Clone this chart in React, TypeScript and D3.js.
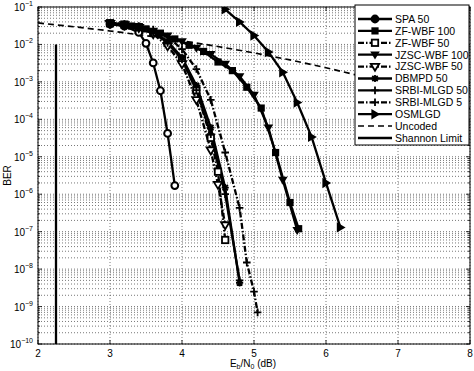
import React from "react";
import * as d3 from "d3";

// Eb/N0 (dB) and BER
const spaX = [3.0, 3.2, 3.4, 3.5, 3.6, 3.7, 3.8, 3.9];
const spaY = [0.035, 0.031, 0.021, 0.0107, 0.0032, 5.8e-4, 4.2e-5, 1.7e-6];

const zf100X = [3.0, 3.3, 3.5, 3.7, 3.9, 4.1, 4.3, 4.5, 4.7, 4.9, 5.1, 5.3, 5.5, 5.62];
const zf100Y = [0.036, 0.031, 0.026, 0.02, 0.014, 0.0095, 0.0065, 0.0034, 0.002, 7.2e-4, 2.0e-4, 1.3e-5, 6e-7, 1.2e-7];

const zf50X = [3.0, 3.2, 3.4, 3.6, 3.8, 4.0, 4.2, 4.4, 4.5, 4.6];
const zf50Y = [0.037, 0.034, 0.029, 0.021, 0.011, 0.004, 6e-4, 3.2e-5, 4e-6, 6e-8];

const jz100X = [3.0, 3.2, 3.4, 3.6, 3.8, 4.0, 4.2, 4.4, 4.6, 4.8, 5.0, 5.2, 5.4, 5.6];
const jz100Y = [0.036, 0.032, 0.028, 0.023, 0.017, 0.012, 0.008, 0.0055, 0.003, 0.0014, 4.5e-4, 6e-5, 2.4e-6, 1.1e-7];

const jz50X = [3.0, 3.2, 3.4, 3.6, 3.8, 4.0, 4.2, 4.4, 4.5, 4.6];
const jz50Y = [0.036, 0.033, 0.028, 0.019, 0.009, 0.003, 3.3e-4, 1.5e-5, 1.8e-6, 1.5e-7];

const dbX = [3.0, 3.2, 3.4, 3.6, 3.8, 4.0, 4.2, 4.4, 4.6, 4.8];
const dbY = [0.038, 0.034, 0.03, 0.022, 0.012, 0.0045, 8e-4, 6e-5, 1.5e-6, 4.3e-9];

const sr50X = [3.0, 3.2, 3.4, 3.6, 3.8, 4.0, 4.2, 4.4, 4.6, 4.8];
const sr50Y = [0.037, 0.034, 0.029, 0.021, 0.011, 0.004, 6e-4, 4e-5, 1e-6, 5e-9];

const sr5X = [3.0, 3.2, 3.4, 3.6, 3.8, 4.0, 4.2, 4.4, 4.6, 4.8, 4.9, 5.0, 5.05];
const sr5Y = [0.038, 0.035, 0.031, 0.025, 0.016, 0.0075, 0.0022, 3.3e-4, 1.3e-5, 4.3e-7, 1.5e-8, 2.5e-9, 7e-10];

const osX = [4.6, 4.8, 5.0, 5.2, 5.4, 5.6, 5.8, 6.0, 6.2];
const osY = [0.087, 0.04, 0.0174, 0.0063, 0.0018, 2.8e-4, 3.4e-5, 2.0e-6, 1.3e-7];

const uncX = [2, 2.5, 3, 3.5, 4, 4.5, 5, 5.5, 6, 6.5, 7, 7.5, 8];
const uncY = [0.0375, 0.0297, 0.0229, 0.0172, 0.0125, 0.0088, 0.00595, 0.00386, 0.00239, 0.0014, 7.7e-4, 3.98e-4, 1.91e-4];

const shannonX = [2.25, 2.25];
const shannonY = [1e-2, 1e-10];

const xTicks = [2, 3, 4, 5, 6, 7, 8];
const yExps = [-1, -2, -3, -4, -5, -6, -7, -8, -9, -10];

type Mk = "o" | "s" | "so" | "v" | "vo" | "star" | "plus" | "tri" | "none";
interface S { name: string; xs: number[]; ys: number[]; mk: Mk; dash: string | null; }

const series: S[] = [
  { name: "SPA 50", xs: spaX, ys: spaY, mk: "o", dash: null },
  { name: "ZF-WBF 100", xs: zf100X, ys: zf100Y, mk: "s", dash: null },
  { name: "ZF-WBF 50", xs: zf50X, ys: zf50Y, mk: "so", dash: "6,2,1.5,2" },
  { name: "JZSC-WBF 100", xs: jz100X, ys: jz100Y, mk: "v", dash: null },
  { name: "JZSC-WBF 50", xs: jz50X, ys: jz50Y, mk: "vo", dash: "6,2,1.5,2" },
  { name: "DBMPD 50", xs: dbX, ys: dbY, mk: "star", dash: null },
  { name: "SRBI-MLGD 50", xs: sr50X, ys: sr50Y, mk: "plus", dash: null },
  { name: "SRBI-MLGD 5", xs: sr5X, ys: sr5Y, mk: "plus", dash: "6,2,1.5,2" },
  { name: "OSMLGD", xs: osX, ys: osY, mk: "tri", dash: null },
  { name: "Uncoded", xs: uncX, ys: uncY, mk: "none", dash: "6,4" },
  { name: "Shannon Limit", xs: shannonX, ys: shannonY, mk: "none", dash: null },
];

const L = 38, R = 470, T = 7, B = 344;
const x = d3.scaleLinear().domain([2, 8]).range([L, R]);
const y = d3.scaleLog().domain([1e-10, 1e-1]).range([B, T]);

function Marker({ cx, cy, mk, legend }: { cx: number; cy: number; mk: Mk; legend?: boolean }) {
  const k = "#000";
  switch (mk) {
    case "o":
      return <circle cx={cx} cy={cy} r={3.4} fill={legend ? k : "#fff"} stroke={k} strokeWidth={2} />;
    case "s":
      return <rect x={cx - 3.6} y={cy - 3.6} width={7.2} height={7.2} fill={k} />;
    case "so":
      return <rect x={cx - 3.2} y={cy - 3.2} width={6.4} height={6.4} fill="#fff" stroke={k} strokeWidth={1.8} />;
    case "v":
      return <path d={`M${cx - 4.8},${cy - 3.2}L${cx + 4.8},${cy - 3.2}L${cx},${cy + 4.8}Z`} fill={k} />;
    case "vo":
      return <path d={`M${cx - 4.2},${cy - 2.8}L${cx + 4.2},${cy - 2.8}L${cx},${cy + 4.2}Z`} fill="#fff" stroke={k} strokeWidth={1.8} />;
    case "tri":
      return <path d={`M${cx - 3.6},${cy - 5.2}L${cx + 5.2},${cy}L${cx - 3.6},${cy + 5.2}Z`} fill={k} />;
    case "star":
      return (
        <path
          d={`M${cx - 3.6},${cy}H${cx + 3.6}M${cx},${cy - 3.6}V${cy + 3.6}M${cx - 2.7},${cy - 2.7}L${cx + 2.7},${cy + 2.7}M${cx - 2.7},${cy + 2.7}L${cx + 2.7},${cy - 2.7}`}
          stroke={k}
          strokeWidth={1.8}
        />
      );
    case "plus":
      return <path d={`M${cx - 3.8},${cy}H${cx + 3.8}M${cx},${cy - 3.8}V${cy + 3.8}`} stroke={k} strokeWidth={1.8} />;
    default:
      return null;
  }
}

export default function App() {
  const line = d3
    .line<[number, number]>()
    .x((d) => x(d[0]))
    .y((d) => y(d[1]));

  const minor: number[] = [];
  for (let e = -10; e < -1; e++) for (let m = 2; m <= 9; m++) minor.push(m * Math.pow(10, e));
  const major = yExps.map((e) => Math.pow(10, e));

  const font = "'Liberation Sans', Arial, sans-serif";
  const legX = 355, legY = 5, legW = 114, legH = 140, rowH = 11.9;

  return (
    <svg width={474} height={371} style={{ position: "absolute", left: 0, top: 0, background: "#fff" }} fontFamily={font}>
      <rect x={0} y={0} width={474} height={371} fill="#fff" />
      <defs>
        <clipPath id="plot">
          <rect x={L} y={T} width={R - L} height={B - T} />
        </clipPath>
      </defs>
      {/* grid */}
      <g stroke="#555" strokeWidth={0.8} strokeDasharray="1,2" fill="none">
        {minor.map((v, i) => (
          <line key={"mn" + i} x1={L} x2={R} y1={y(v)} y2={y(v)} />
        ))}
        {major.map((v, i) => (
          <line key={"mj" + i} x1={L} x2={R} y1={y(v)} y2={y(v)} />
        ))}
        {xTicks.map((t) => (
          <line key={"xg" + t} x1={x(t)} x2={x(t)} y1={T} y2={B} />
        ))}
      </g>
      {/* curves */}
      <g clipPath="url(#plot)">
        {series.map((s) => (
          <path
            key={s.name}
            d={line(s.xs.map((v, i) => [v, s.ys[i]] as [number, number])) || ""}
            fill="none"
            stroke="#000"
            strokeWidth={s.name === "Uncoded" ? 1.7 : 2.3}
            strokeDasharray={s.dash || undefined}
          />
        ))}
        {series.map((s) =>
          s.xs.map((v, i) => <Marker key={s.name + i} cx={x(v)} cy={y(s.ys[i])} mk={s.mk} />)
        )}
      </g>
      {/* frame and ticks */}
      <rect x={L} y={T} width={R - L} height={B - T} fill="none" stroke="#000" strokeWidth={1} />
      <g stroke="#000" strokeWidth={0.8}>
        {xTicks.map((t) => (
          <g key={"xt" + t}>
            <line x1={x(t)} x2={x(t)} y1={B} y2={B - 4} />
            <line x1={x(t)} x2={x(t)} y1={T} y2={T + 4} />
          </g>
        ))}
        {major.map((v, i) => (
          <g key={"yt" + i}>
            <line x1={L} x2={L + 4} y1={y(v)} y2={y(v)} />
            <line x1={R} x2={R - 4} y1={y(v)} y2={y(v)} />
          </g>
        ))}
        {minor.map((v, i) => (
          <g key={"ymt" + i}>
            <line x1={L} x2={L + 2} y1={y(v)} y2={y(v)} />
            <line x1={R} x2={R - 2} y1={y(v)} y2={y(v)} />
          </g>
        ))}
      </g>
      {/* tick labels */}
      <g fontSize={10} fill="#000">
        {xTicks.map((t) => (
          <text key={"xl" + t} x={x(t)} y={B + 13} textAnchor="middle">
            {t}
          </text>
        ))}
        {yExps.map((e) => (
          <text key={"yl" + e} x={L - 5} y={y(Math.pow(10, e)) + 4} textAnchor="end">
            10
            <tspan fontSize={7} dy={-5}>
              {"\u2212" + -e}
            </tspan>
          </text>
        ))}
      </g>
      <text x={253} y={367} fontSize={10} textAnchor="middle">
        E<tspan fontSize={7} dy={2}>b</tspan>
        <tspan dy={-2}>/N</tspan>
        <tspan fontSize={7} dy={2}>0</tspan>
        <tspan dy={-2}> (dB)</tspan>
      </text>
      <text x={0} y={0} fontSize={10} textAnchor="middle" transform={`translate(11,${(T + B) / 2}) rotate(-90)`}>
        BER
      </text>
      {/* legend */}
      <rect x={legX} y={legY} width={legW} height={legH} fill="#fff" stroke="#000" strokeWidth={1} />
      {series.map((s, i) => {
        const cy = legY + 14 + i * rowH;
        return (
          <g key={"lg" + s.name}>
            <line
              x1={legX + 3}
              x2={legX + 37}
              y1={cy}
              y2={cy}
              stroke="#000"
              strokeWidth={s.name === "Uncoded" ? 1.5 : 2.3}
              strokeDasharray={s.dash || undefined}
            />
            <Marker cx={legX + 20} cy={cy} mk={s.mk} legend />
            <text x={legX + 40} y={cy + 3.8} fontSize={10.5}>
              {s.name}
            </text>
          </g>
        );
      })}
    </svg>
  );
}
